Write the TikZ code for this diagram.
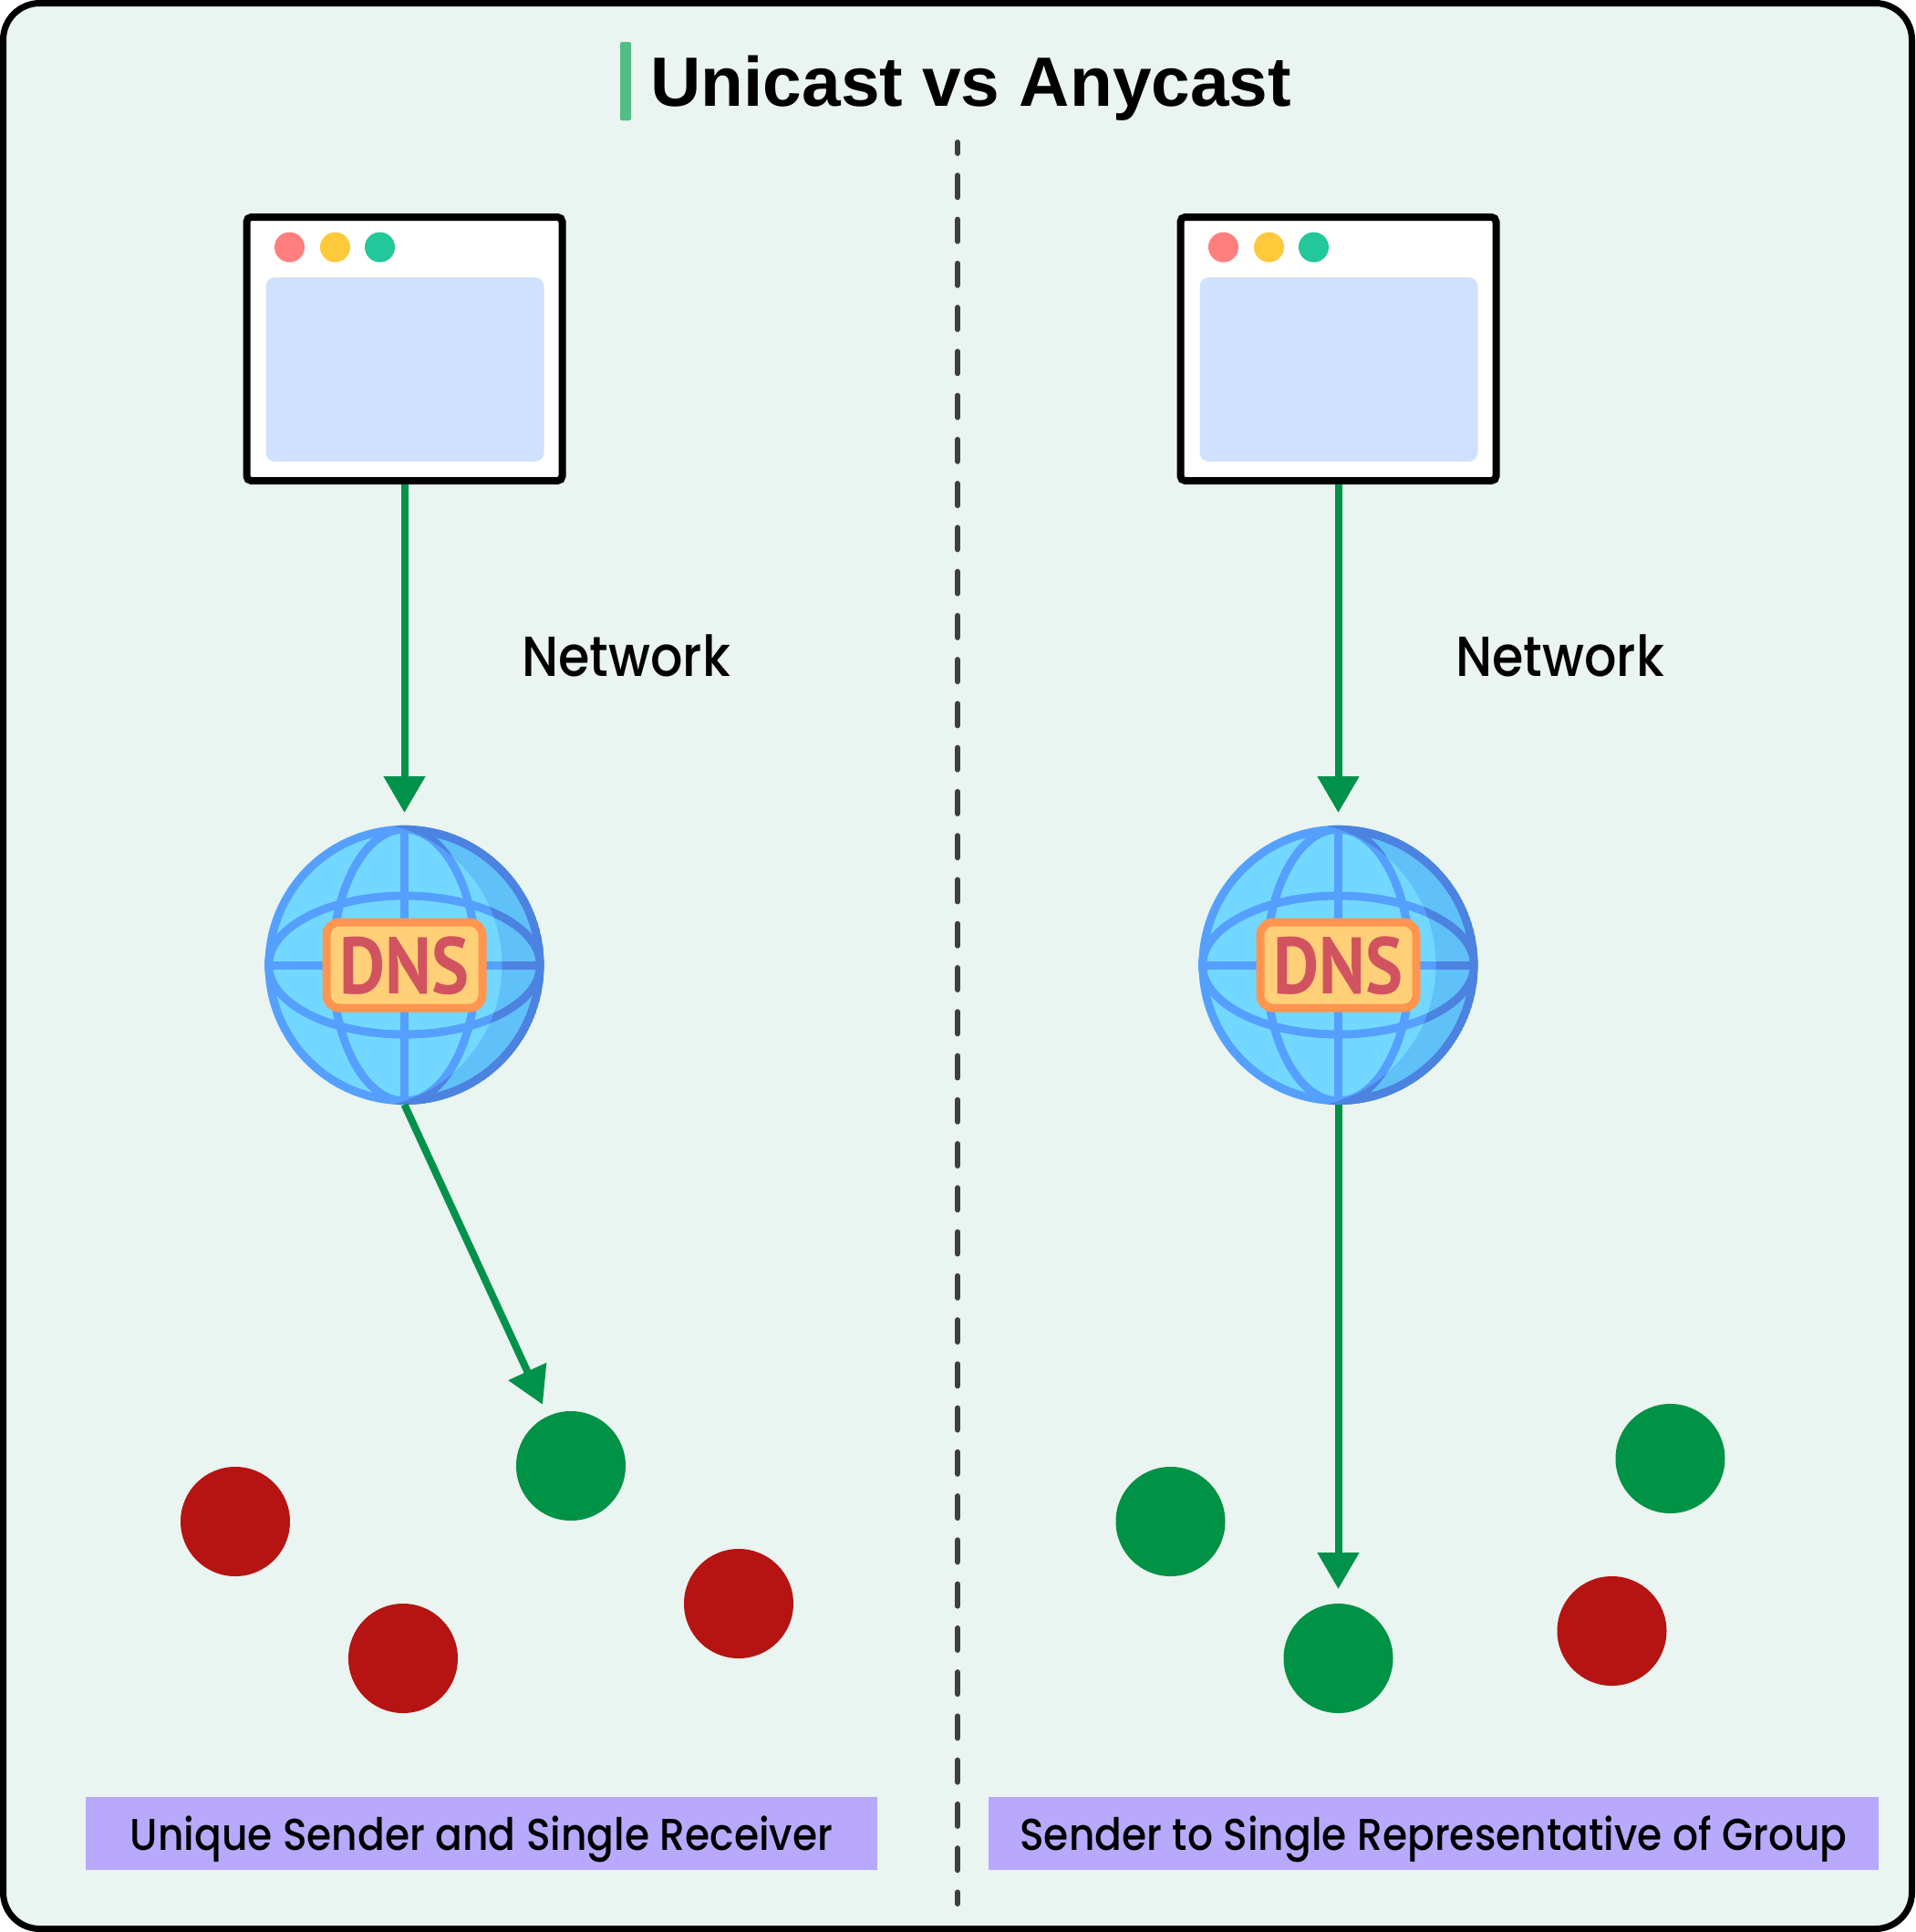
\documentclass[tikz,border=0pt]{standalone}
\usepackage{fontspec}
\usepackage{xcolor}
\usepackage{tikz}
\usetikzlibrary{arrows.meta, positioning}
\setmainfont{Liberation Sans}
\newfontfamily\labelfont{Poppins}[UprightFont=* Medium, FakeStretch=0.9]
\newfontfamily\dnsfont{PT Sans}[FakeStretch=0.88]
\definecolor{panelbg}{HTML}{EAF4F0}
\definecolor{accent}{HTML}{52BE85}
\definecolor{divider}{HTML}{3F3F3F}
\definecolor{arrowgreen}{HTML}{00924A}
\definecolor{hostgreen}{HTML}{009245}
\definecolor{hostred}{HTML}{B51412}
\definecolor{capviolet}{HTML}{B8A9FF}
\definecolor{screenblue}{HTML}{CFE1FF}
\definecolor{dotred}{HTML}{FF7F7F}
\definecolor{dotyellow}{HTML}{FFC93C}
\definecolor{dotgreen}{HTML}{22C79A}
\definecolor{globesky}{HTML}{72D8FF}
\definecolor{globering}{HTML}{559FFF}
\definecolor{globeshade}{HTML}{60C0F8}
\definecolor{globedark}{HTML}{4C82E0}
\definecolor{badgeedge}{HTML}{FF954F}
\definecolor{badgefill}{HTML}{FFD078}
\definecolor{badgetext}{HTML}{D1535F}
\newcommand{\globegrid}[2]{
  \fill[#1] (0,0) circle (1.53);
  \draw[#2, line width=0.09cm] (0,0) circle (1.485);
  \draw[#2, line width=0.09cm] (0,0) ellipse (0.79 and 1.49);
  \draw[#2, line width=0.09cm] (0,0) ellipse (1.49 and 0.76);
  \draw[#2, line width=0.09cm] (0,1.5) -- (0,-1.5);
  \draw[#2, line width=0.09cm] (-1.5,0) -- (1.5,0);
}
\tikzset{
  % Frame and title
  frame/.style={rectangle, rounded corners=0.4cm, draw=black, line width=0.07cm, fill=panelbg},
  titlebar/.style={rectangle, rounded corners=0.02cm, minimum width=0.12cm, minimum height=0.86cm, inner sep=0pt, fill=accent},
  titletext/.style={inner sep=0pt, font=\fontsize{21.8}{26}\selectfont\bfseries},
  splitline/.style={draw=divider, line width=0.06cm, line cap=round, dash pattern=on 0.24cm off 0.2426cm, dash phase=0.12cm},
  % Network parts
  window/.style={rectangle, rounded corners=0.05cm, minimum width=3.46cm, minimum height=2.89cm, inner sep=0pt, draw=black, line width=0.08cm, fill=white},
  lightdot/.style={circle, minimum size=0.33cm, inner sep=0pt, fill=#1},
  globe/.style={circle, minimum size=3.06cm, inner sep=0pt, outer sep=0pt},
  badge/.style={rectangle, rounded corners=0.14cm, minimum width=1.71cm, minimum height=0.94cm, inner sep=0pt, draw=badgeedge, line width=0.09cm, fill=badgefill, text=badgetext, text height=0.62cm, text depth=0cm, font=\dnsfont\bfseries\fontsize{25}{25}\selectfont},
  host/.style={circle, minimum size=1.2cm, inner sep=0pt, outer sep=0pt, fill=#1},
  netlabel/.style={inner sep=0pt, text height=0.43cm, text depth=0cm, font=\labelfont\fontsize{17.6}{20}\selectfont},
  caption/.style={rectangle, minimum height=0.8cm, inner sep=0pt, fill=capviolet, text height=0.45cm, text depth=0.09cm, font=\labelfont\fontsize{13.9}{16}\selectfont},
  arrow/.style={-{Triangle[length=0.4cm, width=0.44cm]}, draw=arrowgreen, line width=0.08cm, shorten >=0.14cm},
  % Pictures inside the nodes
  browser/.pic={
    \fill[screenblue, rounded corners=0.1cm] (-1.52,0.785) rectangle (1.53,-1.235);
    \node[lightdot=dotred] (-red) at (-1.26,1.115) {};
    \node[lightdot=dotyellow] (-yellow) at (-0.76,1.115) {};
    \node[lightdot=dotgreen] (-green) at (-0.27,1.115) {};
  },
  dnsglobe/.pic={
    \globegrid{globesky}{globering}
    \begin{scope}[even odd rule]
      \clip (0,0) circle (1.53);
      \clip (-2,-2) rectangle (2,2) (-0.505,0) circle (1.575);
      \globegrid{globeshade}{globedark}
    \end{scope}
    \node[badge] (-dns) at (0,0) {DNS};
  },
}
\begin{document}
\begin{tikzpicture}
    \useasboundingbox (0,0) rectangle (21,-21.18);

    % Frame
    \node[frame, minimum width=20.93cm, minimum height=21.11cm, anchor=north west] (board) at (0,0) {};

    % Title
    \node[titlebar] (bar) at (6.86,-0.89) {};
    \node[titletext, right=0.2cm of bar, yshift=-0.08cm] (title) {Unicast vs Anycast};

    % Divider
    \coordinate (divtop) at (10.5,-1.56);
    \coordinate (divbot) at (10.5,-20.87);
    \draw[splitline] (divtop) -- (divbot);

    % Unicast side
    \node[window] (winL) at (4.435,-3.825) {};
    \pic (partsL) at (winL) {browser};
    \node[globe, below=3.74cm of winL] (globeL) {};
    \pic (gridL) at (globeL) {dnsglobe};
    \node[netlabel, below=1.67cm of winL, xshift=2.43cm] (netL) {Network};

    \node[host=hostred, below=5.47cm of globeL, xshift=-0.015cm] (hostL2) {};
    \node[host=hostred, left=0.64cm of hostL2, yshift=1.5cm] (hostL1) {};
    \node[host=hostgreen, right=0.64cm of hostL2, yshift=2.11cm] (hostL3) {};
    \node[host=hostred, right=0.64cm of hostL3, yshift=-1.51cm] (hostL4) {};

    \node[caption, minimum width=8.68cm] (capL) at (5.28,-20.1) {Unique Sender and Single Receiver};

    % Anycast side
    \node[window, right=6.7cm of winL] (winR) {};
    \pic (partsR) at (winR) {browser};
    \node[globe, below=3.74cm of winR] (globeR) {};
    \pic (gridR) at (globeR) {dnsglobe};
    \node[netlabel, below=1.67cm of winR, xshift=2.43cm] (netR) {Network};

    \node[host=hostgreen, below=5.47cm of globeR] (hostR2) {};
    \node[host=hostgreen, left=0.64cm of hostR2, yshift=1.5cm] (hostR1) {};
    \node[host=hostgreen, right=2.44cm of hostR2, yshift=2.19cm] (hostR3) {};
    \node[host=hostred, right=1.8cm of hostR2, yshift=0.3cm] (hostR4) {};

    \node[caption, minimum width=9.76cm] (capR) at (15.72,-20.1) {Sender to Single Representative of Group};

    % === Arrows ===
    \draw[arrow] (winL) -- (globeL);
    \draw[arrow] (globeL.south) -- (hostL3);
    \draw[arrow] (winR) -- (globeR);
    \draw[arrow, shorten >=0.16cm] (globeR) -- (hostR2);
  \end{tikzpicture}
\end{document}
